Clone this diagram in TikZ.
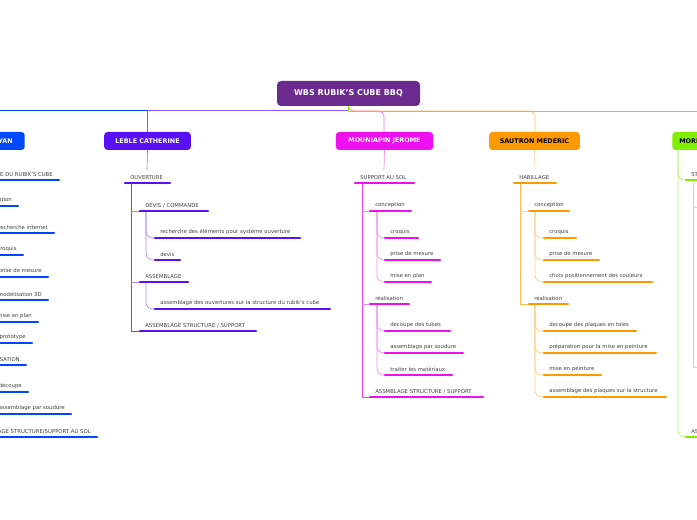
\documentclass[tikz,border=0pt]{standalone}
\usepackage{fontspec}
\setmainfont{DejaVu Sans}
\begin{document}
\begin{tikzpicture}[x=0.75pt,y=-0.75pt,
  root/.style={fill=rootc,rounded corners=3pt,text=white,font=\bfseries\fontsize{6}{7}\selectfont,minimum width=107.25pt,minimum height=18.75pt,inner sep=0pt},
  br/.style={fill=#1,rounded corners=2.5pt,font=\bfseries\fontsize{4.8}{6}\selectfont,minimum height=13.5pt,inner sep=0pt},
  lab/.style={anchor=south west,inner sep=0pt,font=\fontsize{4}{4.5}\selectfont,text=black!75},
  ul/.style={line width=1.6pt,draw=#1,line cap=round},
  cn/.style={line width=0.5pt,draw=#1},
  sc/.style={line width=0.5pt,draw=#1,rounded corners=5pt}]
\definecolor{rootc}{HTML}{6A2A8E}
\definecolor{cb}{HTML}{0048FF}
\definecolor{cp}{HTML}{5A10F6}
\definecolor{cm}{HTML}{EE10EE}
\definecolor{co}{HTML}{FF9900}
\definecolor{cg}{HTML}{80F000}
\useasboundingbox (0,0) rectangle (697,520);
\clip (0,0) rectangle (697,520);
\newcommand\itm[5]{\node[lab] at (#2,#3-3) {#5}; \draw[ul=#1] (#2-5,#3) -- (#4,#3);}
% root connectors
\draw[cn=cb] (348,106) |- (0,110);
\draw[cn=cp!70] (348,108) |- (147,110) -- (147,132);
\draw[cn=cm!60,rounded corners=4pt] (348,106) |- (384,111) -- (384,132);
\draw[cn=co!60,rounded corners=4pt] (348,106) |- (535,111) -- (535,132);
\draw[cn=cg] (348,106) |- (697,111);
\node[root] (r) at (348.5,93.5) {WBS RUBIK'S CUBE BBQ};
% blue branch
\node[br=cb,text=white,anchor=east,minimum width=60pt] (b) at (25,141) {BERNARD RYAN};
\foreach \y/\x/\t in {180/59/{STRUCTURE DU RUBIK'S CUBE},206/18/conception,233/54/recherche internet,255/23/croquis,277/48/prise de mesure,300/48/modélisation 3D,322/38/mise en plan,343/32/prototype,365/26/REALISATION,392/28/decoupe,414/71/assemblage par soudure,437/97/{ASSEMBLAGE STRUCTURE/SUPPORT AU SOL}}
  {\node[lab,anchor=south east] at (\x-6,\y-3) {\t}; \draw[ul=cb] (0,\y) -- (\x,\y);}
% purple
\node[br=cp,text=white,minimum width=65pt] (p) at (147.5,141) {LEBLE CATHERINE};
\draw[cn=cp!60] (p.south) -- (147,170);
\draw[cn=cp!80] (131,183) -- (131,331) -- (140,331);
\draw[cn=cp!50] (131,211) -- (140,211);
\draw[cn=cp!50] (131,282) -- (140,282);
\draw[sc=cp!50] (146,211) |- (155,238); \draw[sc=cp!50] (146,211) |- (155,260);
\draw[sc=cp!50] (146,282) |- (155,309);
\itm{cp}{130}{183}{170}{OUVERTURE}
\itm{cp}{145}{211}{208}{DEVIS / COMMANDE}
\itm{cp}{160}{238}{300}{recherche des éléments pour système ouverture}
\itm{cp}{160}{260}{180}{devis}
\itm{cp}{145}{282}{188}{ASSEMBLAGE}
\itm{cp}{160}{309}{330}{assemblage des ouvertures sur la structure du rubik's cube}
\itm{cp}{145}{331}{256}{ASSEMBLAGE STRUCTURE / SUPPORT}
% pink
\node[br=cm,text=white,minimum width=73pt] (m) at (384.5,141) {MOUNIAPIN JEROME};
\draw[cn=cm!50] (m.south) -- (384,170);
\draw[cn=cm!80] (362,183) -- (362,397) -- (370,397);
\draw[cn=cm!50] (362,211) -- (370,211);
\draw[cn=cm!50] (362,304) -- (370,304);
\foreach \y in {238,260,282} {\draw[sc=cm!50] (377,211) |- (385,\y);}
\foreach \y in {331,353,375} {\draw[sc=cm!50] (377,304) |- (385,\y);}
\itm{cm}{360}{183}{414}{SUPPORT AU SOL}
\itm{cm}{375}{211}{411}{conception}
\itm{cm}{390}{238}{418}{croquis}
\itm{cm}{390}{260}{440}{prise de mesure}
\itm{cm}{390}{282}{431}{mise en plan}
\itm{cm}{375}{304}{409}{réalisation}
\itm{cm}{390}{331}{450}{decoupe des tubes}
\itm{cm}{390}{353}{463}{assemblage par soudure}
\itm{cm}{390}{375}{452}{traiter les matériaux}
\itm{cm}{375}{397}{483}{ASSMBLAGE STRUCTURE / SUPPORT}
% orange
\node[br=co,text=black,minimum width=68pt] (o) at (534.5,141) {SAUTRON MEDERIC};
\draw[cn=co!40] (o.south) -- (535,170);
\draw[cn=co!70] (520,183) -- (520,304) -- (529,304);
\draw[cn=co!40] (520,211) -- (529,211);
\foreach \y in {238,260,282} {\draw[sc=co!50] (535,211) |- (544,\y);}
\foreach \y in {331,353,375,397} {\draw[sc=co!50] (535,304) |- (544,\y);}
\itm{co}{519}{183}{556}{HABILLAGE}
\itm{co}{534}{211}{569}{conception}
\itm{co}{549}{238}{576}{croquis}
\itm{co}{549}{260}{599}{prise de mesure}
\itm{co}{549}{282}{652}{choix positionnement  des couleurs}
\itm{co}{534}{304}{568}{réalisation}
\itm{co}{549}{331}{636}{decoupe des plaques en toles}
\itm{co}{549}{353}{656}{préparation pour la mise en peinture}
\itm{co}{549}{375}{601}{mise en peinture}
\itm{co}{549}{397}{666}{assemblage des plaques sur la structure}
% green
\node[br=cg,anchor=west,minimum width=70pt] (g) at (672,141) {};
\node[anchor=west,inner sep=0pt,font=\bfseries\fontsize{4.8}{6}\selectfont] (gt) at (679,141) {MORIN};
\draw[sc=cg!60] (678,150) |- (686,180);
\draw[sc=cg!60] (678,150) |- (686,437);
\draw[cn=cg!60] (693,180) -- (693,367) -- (697,367);
\draw[cn=cg!60] (693,207) -- (697,207);
\node[lab] at (691,177) {STRUCTURE};
\draw[ul=cg] (686,180) -- (700,180);
\node[lab] at (691,434) {ASSEMBLAGE};
\draw[ul=cg] (686,437) -- (700,437);
\end{tikzpicture}
\end{document}
